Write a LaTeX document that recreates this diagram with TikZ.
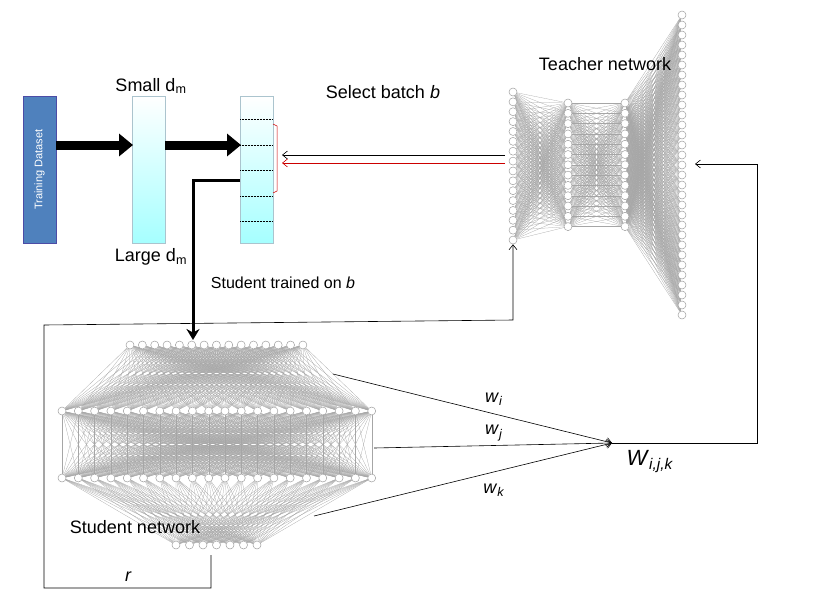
\documentclass[tikz,border=0pt]{standalone}
\usepackage{fontspec}
\setmainfont{Liberation Sans}
\usetikzlibrary{arrows,arrows.meta,backgrounds,positioning,calc}

\tikzset{
	neuron/.style={circle, draw=gray!75, fill=white, inner sep=0pt, minimum size=8pt, line width=0.5pt},
	synapse/.style={draw=gray!70, line width=0.25pt},
	databox/.style={draw=cyan!30!gray!60, top color=white, bottom color=cyan!35, line width=0.6pt},
	bigarrow/.style={line width=9pt, -{Triangle[length=14pt,width=22pt]}},
	link/.style={black, line width=0.6pt, -{Straight Barb[length=5pt,width=8pt]}},
	label/.style={font=\fontsize{18}{20}\selectfont}
}

\begin{document}
\begin{tikzpicture}[x=1pt,y=-1pt]
	\useasboundingbox (0,0) rectangle (818,613);
	% data boxes
	\filldraw[draw=blue!50!black!70, fill={rgb,255:red,79;green,129;blue,189}] (23,96) rectangle (56,243);
	\node[rotate=90, white, font=\fontsize{11}{12}\selectfont] (data) at (39.5,169.5) {Training Dataset};
	\filldraw[databox] (132,96) rectangle (165,243);
	\coordinate (dm) at (148.5,169.5);
	\node[label] (small) at (151,86) {Small d\textsubscript{m}};
	\node[label] (large) at (151,257) {Large d\textsubscript{m}};
	\filldraw[databox] (240,96) rectangle (273,243);
	\coordinate (batch) at (256.5,169.5);
	\foreach \y in {119,145,170,196,221}
		\draw[densely dotted, line width=0.5pt] (240,\y) -- (273,\y);
	\draw[bigarrow] (56,145) -- (133,145);
	\draw[bigarrow] (165,145) -- (241,145);
	\draw[red!80!black, line width=0.5pt] (273,124) -- (277,126) -- (277,191) -- (273,193);
	\node[label] (select) at (383,92) {Select batch \textit{b}};
	\node[font=\fontsize{16}{18}\selectfont] (trained) at (283,283) {Student trained on \textit{b}};

	% teacher network
	\foreach \i in {0,...,15}
		\node[neuron] (t1-\i) at (513,92+9.87*\i) {};
	\foreach \i in {0,...,12} {
		\node[neuron] (t2-\i) at (568,103+10.3*\i) {};
		\node[neuron] (t3-\i) at (625,103+10.3*\i) {};
	}
	\foreach \i in {0,...,30}
		\node[neuron] (t4-\i) at (682,15+10*\i) {};
	\begin{scope}[on background layer]
		\foreach \a in {0,...,15}
			\foreach \b in {0,...,12}
				\draw[synapse] (t1-\a) -- (t2-\b);
		\foreach \a in {0,...,12}
			\foreach \b in {0,...,12}
				\draw[synapse] (t2-\a) -- (t3-\b);
		\foreach \a in {0,...,12}
			\foreach \b in {0,...,30}
				\draw[synapse] (t3-\a) -- (t4-\b);
	\end{scope}
	\node[label] (teacher) at (605,64) {Teacher network};

	% student network
	\foreach \i in {0,...,14}
		\node[neuron] (s1-\i) at (130+12.35*\i,345) {};
	\foreach \i in {0,...,19} {
		\node[neuron] (s2-\i) at (62+16.3*\i,411) {};
		\node[neuron] (s3-\i) at (62+16.3*\i,478) {};
	}
	\foreach \i in {0,...,6}
		\node[neuron] (s4-\i) at (176+13.5*\i,545) {};
	\begin{scope}[on background layer]
		\foreach \a in {0,...,14}
			\foreach \b in {0,...,19}
				\draw[synapse] (s1-\a) -- (s2-\b);
		\foreach \a in {0,...,19}
			\foreach \b in {0,...,19}
				\draw[synapse] (s2-\a) -- (s3-\b);
		\foreach \a in {0,...,19}
			\foreach \b in {0,...,6}
				\draw[synapse] (s3-\a) -- (s4-\b);
	\end{scope}
	\node[label] (student) at (135,527) {Student network};

	% connectors
	\coordinate (sel1) at (505,155);
	\coordinate (sel2) at (505,163);
	\draw[link] (sel1) -- (282,155);
	\draw[link, red!80!black] (sel2) -- (282,163);
	\draw[line width=3pt, -{Stealth[length=11pt,width=13pt]}] (240,180) -- (193,180) -- (193,340);
	\coordinate (r0) at (211,555);
	\draw[link] (r0) -- (211,588) -- (44,588) -- (44,325) -- (513,320) -- (t1-15);
	\node[label, font=\itshape\fontsize{18}{20}\selectfont] (r) at (128,577) {r};
	\coordinate (wsum) at (612,443);
	\draw[link] (333,374) -- (wsum);
	\draw[link] (374,448) -- (wsum);
	\draw[link] (314,516) -- (wsum);
	\draw[link] (wsum) -- (757,443) -- (757,164) -- (695,164);
	\node[label] (wi) at (494,399) {\textit{w}\textsubscript{\textit{i}}};
	\node[label] (wj) at (494,433) {\textit{w}\textsubscript{\textit{j}}};
	\node[label] (wk) at (494,490) {\textit{w}\textsubscript{\textit{k}}};
	\node[font=\fontsize{22}{24}\selectfont] (W) at (650,462) {\textit{W}\textsubscript{\textit{i,j,k}}};
\end{tikzpicture}
\end{document}
